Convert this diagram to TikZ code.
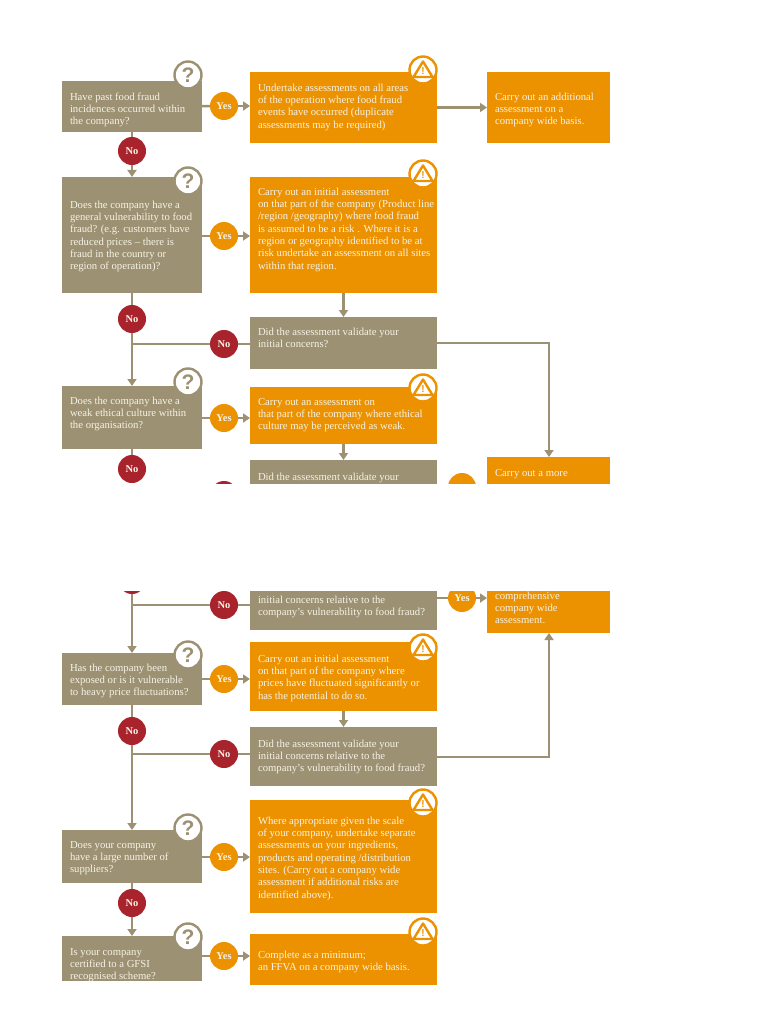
\documentclass[tikz,border=0pt]{standalone}
\usepackage{fontspec}
\setmainfont{Liberation Serif}
\newfontfamily\iconfont{Liberation Sans}
\usetikzlibrary{arrows.meta}
\definecolor{tan}{HTML}{9C9172}
\definecolor{orng}{HTML}{EC9200}
\definecolor{redd}{HTML}{A8232B}
\definecolor{paper}{HTML}{F6F2E6}
\tikzset{
  x=1pt,y=-1pt,
  boxq/.style={fill=tan,draw=none,inner sep=0pt,outer sep=0pt},
  boxa/.style={fill=orng,draw=none,inner sep=0pt,outer sep=0pt},
  btext/.style={text=paper,inner sep=0pt,outer sep=0pt,anchor=north west,align=left,font=\fontsize{10.7}{12.3}\selectfont},
  yesc/.style={circle,fill=orng,minimum size=28pt,inner sep=0pt,outer sep=0pt,text=paper,font=\fontsize{10.5}{11}\selectfont\bfseries},
  noc/.style={circle,fill=redd,minimum size=28pt,inner sep=0pt,outer sep=0pt,text=paper,font=\fontsize{10.5}{11}\selectfont\bfseries},
  qicon/.style={circle,fill=white,draw=tan,line width=2.4pt,minimum size=27pt,inner sep=0pt,text=tan,font=\fontsize{21}{21}\selectfont\iconfont\bfseries},
  wicon/.style={circle,fill=white,draw=orng,line width=2.4pt,minimum size=27pt,inner sep=0pt},
  wmark/.style={text=orng,inner sep=0pt,font=\fontsize{10}{10}\selectfont\iconfont\bfseries},
  link/.style={draw=tan,line width=2.4pt},
  arrowlink/.style={link,-{Triangle[length=7pt,width=9pt]}},
}
\newcommand{\bx}[8]{%
  \pgfmathsetmacro{\bxw}{#4-#2}\pgfmathsetmacro{\bxh}{#5-#3}%
  \node[#6,minimum width=\bxw pt,minimum height=\bxh pt] (#1) at ({(#2+#4)/2},{(#3+#5)/2}) {};
  \node[btext] (#1t) at (#2+8,#7-4.3) {\strut #8};
}
\newcommand{\qmark}[3]{\node[qicon] (#1) at (#2,#3) {?};}
\newcommand{\warn}[3]{%
  \node[wicon] (#1) at (#2,#3) {};
  \draw[orng,line width=2.4pt,line join=round] (#2,#3-8.5) -- (#2+9.5,#3+7) -- (#2-9.5,#3+7) -- cycle;
  \node[wmark] (#1m) at (#2,#3+1.5) {!};
}
\begin{document}
\begin{tikzpicture}
\useasboundingbox (0,0) rectangle (768,1024);
\fill[white] (0,0) rectangle (768,1024);

% ---------- upper page ----------
\begin{scope}
\clip (0,0) rectangle (768,483);
\bx{a1}{62}{81}{202}{132}{boxq}{96}{Have past food fraud\\incidences occurred within\\the company?}
\bx{b1}{250}{72}{437}{143}{boxa}{87}{Undertake assessments on all areas\\of the operation where food fraud\\events have occurred (duplicate\\assessments may be required)}
\bx{c1}{487}{72}{610}{143}{boxa}{96}{Carry out an additional\\assessment on a\\company wide basis.}
\bx{a2}{62}{177}{202}{293}{boxq}{204}{Does the company have a\\general vulnerability to food\\fraud? (e.g. customers have\\reduced prices -- there is\\fraud in the country or\\region of operation)?}
\bx{b2}{250}{177}{437}{293}{boxa}{191}{Carry out an initial assessment\\on that part of the company (Product line\\/region /geography) where food fraud\\is assumed to be a risk . Where it is a\\region or geography identified to be at\\risk undertake an assessment on all sites\\within that region.}
\bx{d1}{250}{317}{437}{369}{boxq}{331}{Did the assessment validate your\\initial concerns?}
\bx{a3}{62}{386}{202}{449}{boxq}{400}{Does the company have a\\weak ethical culture within\\the organisation?}
\bx{b3}{250}{387}{437}{444}{boxa}{401}{Carry out an assessment on\\that part of the company where ethical\\culture may be perceived as weak.}
\bx{d2a}{250}{460}{437}{490}{boxq}{476}{Did the assessment validate your}
\bx{c2a}{487}{457}{610}{490}{boxa}{472}{Carry out a more}

\node[yesc] (y1) at (224,106) {Yes};
\node[noc] (n1) at (132,151) {No};
\node[yesc] (y2) at (224,236) {Yes};
\node[noc] (n2) at (132,319) {No};
\node[noc] (n3) at (224,344) {No};
\node[yesc] (y3) at (224,418) {Yes};
\node[noc] (n4) at (132,469) {No};
\node[noc] (n5a) at (224,495) {};
\node[yesc] (y4a) at (462,487) {};

\coordinate (j1) at (n2 |- n3);
\draw[link] (a1) -- (y1);
\draw[arrowlink] (y1) -- (y1 -| b1.west);
\draw[arrowlink] (b1) -- (c1);
\draw[link] (a1) -- (n1);
\draw[arrowlink] (n1) -- (n1 |- a2.north);
\draw[link] (a2 |- y2) -- (y2);
\draw[arrowlink] (y2) -- (y2 -| b2.west);
\draw[link] (a2) -- (n2);
\draw[arrowlink] (b2) -- (d1);
\draw[link] (d1.west |- n3) -- (n3);
\draw[link] (n3) -- (j1);
\draw[arrowlink] (n2) -- (n2 |- a3.north);
\draw[link] (y3 -| a3.east) -- (y3);
\draw[arrowlink] (y3) -- (y3 -| b3.west);
\draw[link] (a3) -- (n4);
\draw[arrowlink] (b3) -- (b3 |- d2a.north);
\coordinate (r1) at (549,343);
\draw[arrowlink] (d1.east |- r1) -- (r1) -- (r1 |- c2a.north);
\end{scope}
\qmark{q1}{188}{75}
\warn{w1}{423}{70}
\qmark{q2}{188}{181}
\warn{w2}{423}{174}
\qmark{q3}{188}{382}
\warn{w3}{423}{388}

% ---------- lower page ----------
\begin{scope}
\clip (0,591) rectangle (768,1024);
\bx{d2b}{250}{580}{437}{630}{boxq}{599}{initial concerns relative to the\\company's vulnerability to food fraud?}
\bx{c2b}{487}{580}{610}{633}{boxa}{595}{comprehensive\\company wide\\assessment.}
\bx{a4}{62}{653}{202}{705}{boxq}{667}{Has the company been\\exposed or is it vulnerable\\to heavy price fluctuations?}
\bx{b4}{250}{642}{437}{711}{boxa}{658}{Carry out an initial assessment\\on that part of the company where\\prices have fluctuated significantly or\\has the potential to do so.}
\bx{d3}{250}{727}{437}{786}{boxq}{743}{Did the assessment validate your\\initial concerns relative to the\\company's vulnerability to food fraud?}
\bx{a5}{62}{830}{202}{883}{boxq}{844}{Does your company\\have a large number of\\suppliers?}
\bx{b5}{250}{800}{437}{913}{boxa}{820}{Where appropriate given the scale\\of your company, undertake separate\\assessments on your ingredients,\\products and operating /distribution\\sites. (Carry out a company wide\\assessment if additional risks are\\identified above).}
\bx{a6}{62}{936}{202}{981}{boxq}{951}{Is your company\\certified to a GFSI\\recognised scheme?}
\bx{b6}{250}{934}{437}{985}{boxa}{954}{Complete as a minimum;\\an FFVA on a company wide basis.}

\node[noc] (n4b) at (132,580) {};
\node[noc] (n5) at (224,605) {No};
\node[yesc] (y4) at (462,598) {Yes};
\node[yesc] (y5) at (224,679) {Yes};
\node[noc] (n6) at (132,731) {No};
\node[noc] (n7) at (224,754) {No};
\node[yesc] (y6) at (224,857) {Yes};
\node[noc] (n8) at (132,903) {No};
\node[yesc] (y7) at (224,956) {Yes};

\coordinate (j2) at (n4b |- n5);
\coordinate (j3) at (n6 |- n7);
\coordinate (r2) at (549,757);
\draw[link] (d2b.west |- n5) -- (n5);
\draw[link] (n5) -- (j2);
\draw[link] (d2b.east |- y4) -- (y4);
\draw[arrowlink] (y4) -- (y4 -| c2b.west);
\draw[arrowlink] (n4b) -- (n4b |- a4.north);
\draw[link] (y5 -| a4.east) -- (y5);
\draw[arrowlink] (y5) -- (y5 -| b4.west);
\draw[link] (a4) -- (n6);
\draw[arrowlink] (b4) -- (d3);
\draw[link] (d3.west |- n7) -- (n7);
\draw[link] (n7) -- (j3);
\draw[arrowlink] (d3.east |- r2) -- (r2) -- (r2 |- c2b.south);
\draw[arrowlink] (n6) -- (n6 |- a5.north);
\draw[link] (y6 -| a5.east) -- (y6);
\draw[arrowlink] (y6) -- (y6 -| b5.west);
\draw[link] (a5) -- (n8);
\draw[arrowlink] (n8) -- (n8 |- a6.north);
\draw[link] (y7 -| a6.east) -- (y7);
\draw[arrowlink] (y7) -- (y7 -| b6.west);
\end{scope}
\qmark{q4}{188}{655}
\warn{w4}{423}{648}
\qmark{q5}{188}{828}
\warn{w5}{423}{803}
\qmark{q6}{188}{937}
\warn{w6}{423}{932}
\end{tikzpicture}
\end{document}
